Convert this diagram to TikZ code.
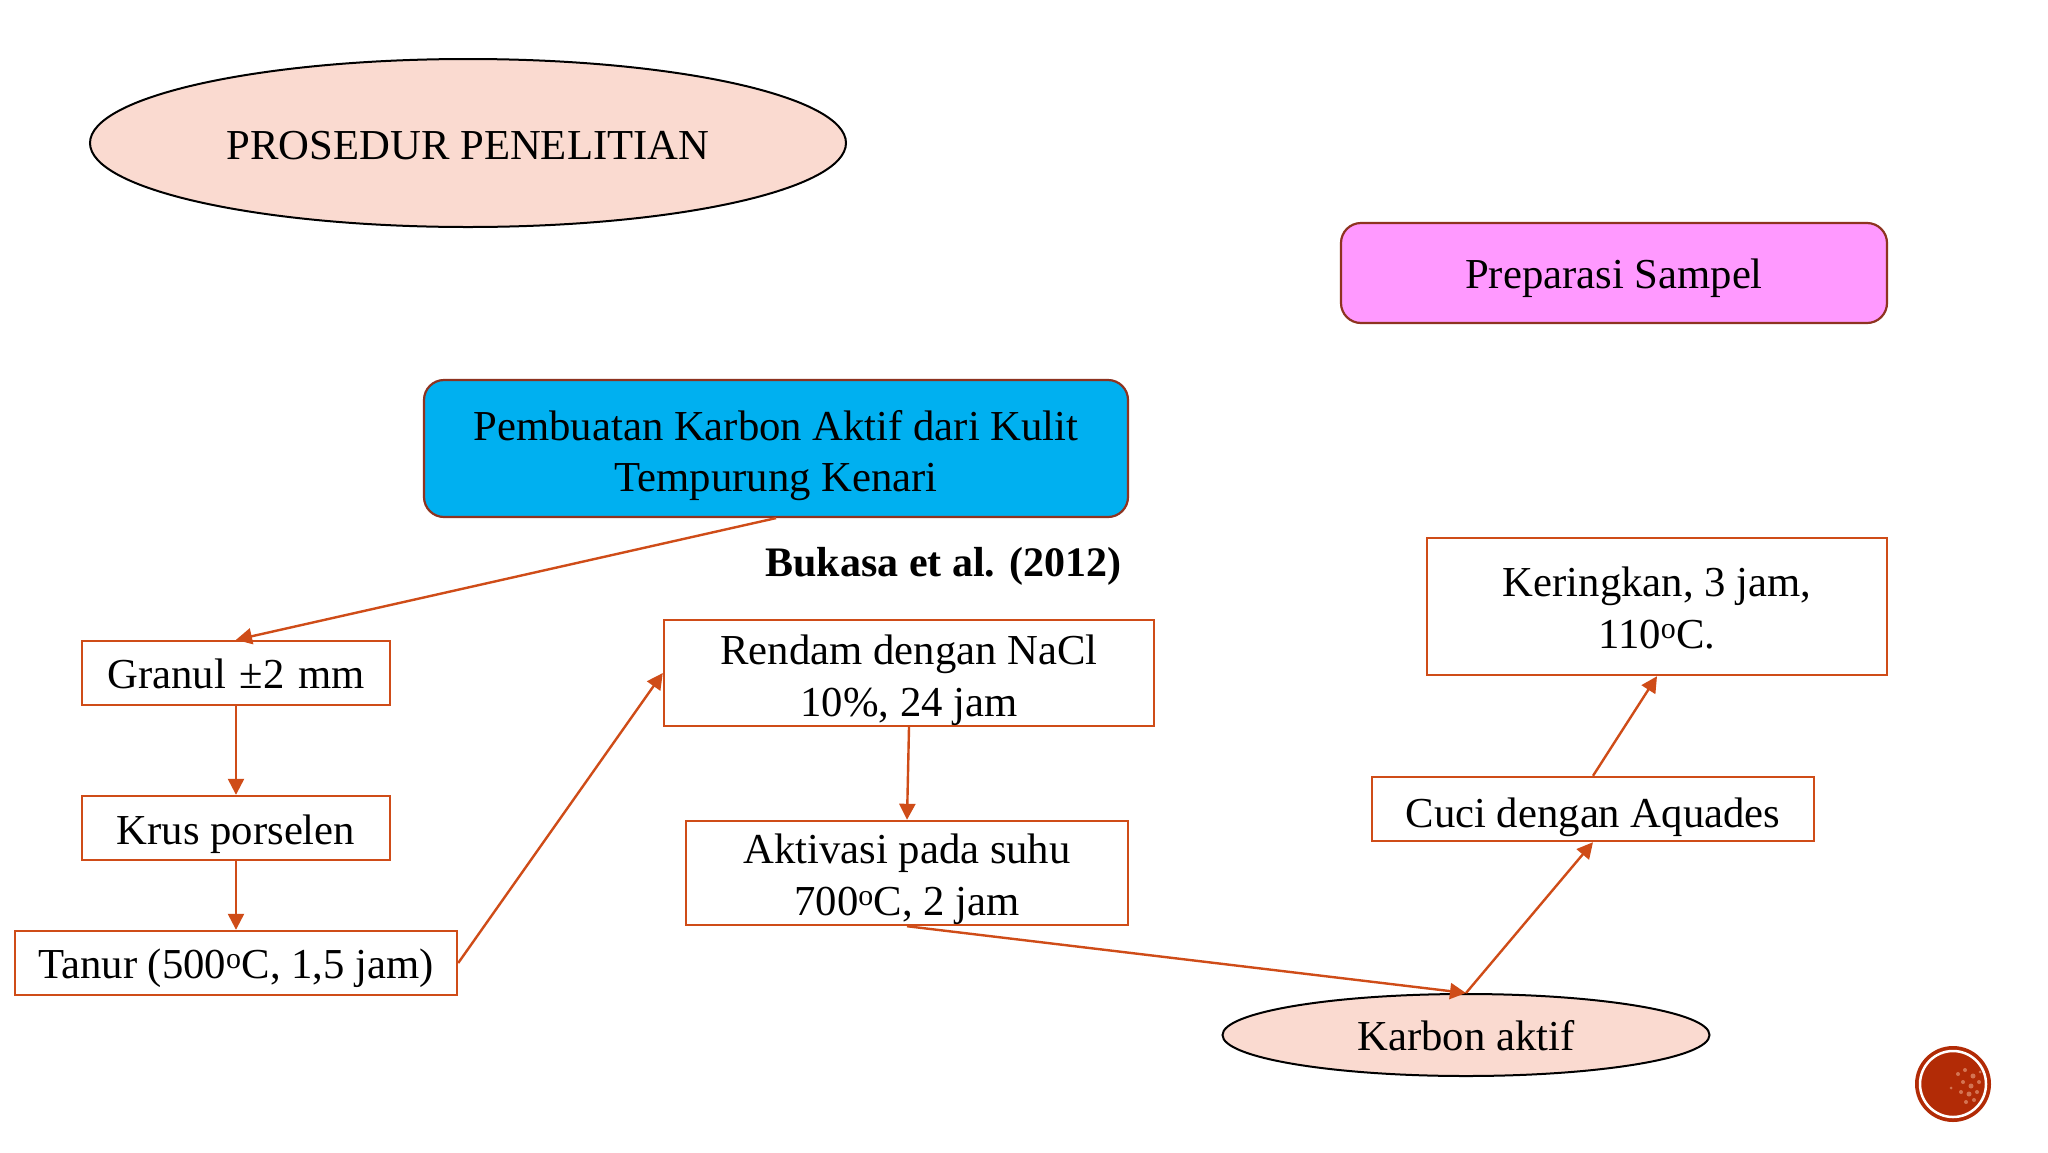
\documentclass[tikz,border=0pt]{standalone}
\usepackage{fontspec}
\setmainfont{Liberation Serif}
\usetikzlibrary{shapes.geometric,arrows.meta}
\definecolor{orangeline}{HTML}{CF4C18}
\definecolor{darkline}{HTML}{8E3320}
\definecolor{peach}{HTML}{FADAD0}
\definecolor{cyanfill}{HTML}{00B0F0}
\definecolor{pinkfill}{HTML}{FF99FF}
\definecolor{badge}{HTML}{B22B06}
\tikzset{
  x=1pt,y=-1pt,
  every node/.style={font=\fontsize{42.7}{51.5}\selectfont,align=center,inner sep=0pt,text=black},
  bl/.style={text height=#1*2pt,text depth=0pt},
  stepbox/.style={draw=orangeline,line width=2.4pt,fill=white,rectangle,minimum width=#1},
  oval/.style={draw=black,line width=2pt,fill=peach,ellipse},
  rbox/.style={draw=darkline,line width=2.2pt,rectangle,rounded corners=20pt},
  link/.style={draw=orangeline,line width=2.4pt,-{Triangle[length=16pt,width=16pt]}},
}
\begin{document}
\begin{tikzpicture}
\useasboundingbox (0,0) rectangle (2048,1152);
\fill[white] (0,0) rectangle (2048,1152);
% title and headers
\node[oval,bl=16,minimum width=756pt,minimum height=168pt] (title) at (468,143) {PROSEDUR PENELITIAN};
\node[rbox,bl=15,fill=pinkfill,minimum width=546pt,minimum height=100pt] (prep) at (1614,273) {Preparasi Sampel};
\node[rbox,bl=43,fill=cyanfill,minimum width=704pt,minimum height=137pt] (buat) at (776,448.5) {Pembuatan Karbon Aktif dari Kulit\\Tempurung Kenari};
\node[bl=15,font=\fontsize{42}{51.5}\selectfont\bfseries] (ref) at (943.5,561) {Bukasa et al. (2012)};
% left column
\node[stepbox=308pt,bl=15,minimum height=64pt] (granul) at (236,673) {Granul\hspace{3pt} ±2\hspace{3pt} mm};
\node[stepbox=308pt,bl=16,minimum height=64pt] (krus) at (236,828) {Krus porselen};
\node[stepbox=442pt,bl=15,minimum height=64pt] (tanur) at (236,963) {Tanur (500\textsuperscript{o}C, 1,5 jam)};
% middle column
\node[stepbox=490pt,bl=43,minimum height=106pt] (rendam) at (909,673) {Rendam dengan NaCl\\10\%, 24 jam};
\node[stepbox=442pt,bl=42,minimum height=104pt] (aktiv) at (907,873) {Aktivasi pada suhu\\700\textsuperscript{o}C, 2 jam};
% right column
\node[oval,bl=15,minimum width=487pt,minimum height=82pt] (karbon) at (1466,1035) {Karbon aktif};
\node[stepbox=442pt,bl=18,minimum height=64pt] (cuci) at (1593,809) {Cuci dengan Aquades};
\node[stepbox=460pt,bl=41.5,minimum height=137pt] (kering) at (1657,606.5) {Keringkan, 3 jam,\\110\textsuperscript{o}C.};
% connectors
\draw[link] (buat.south) -- (granul.north);
\draw[link] (granul.south) -- (krus.north);
\draw[link] (krus.south) -- (tanur.north);
\draw[link] (tanur.east) -- (rendam.west);
\draw[link] (rendam.south) -- (aktiv.north);
\draw[link] (aktiv.south) -- (karbon.north);
\draw[link] (karbon.north) -- (cuci.south);
\draw[link] (cuci.north) -- (kering.south);
% slide badge
\fill[badge] (1953,1084) circle (38);
\draw[white,line width=2.5pt] (1953,1084) circle (33);
\foreach \dx/\dy/\r in {5/-10/2,12/-14/2,20/-8/2.5,10/-2/2,18/2/2.5,26/-2/2,8/8/2,16/10/2.5,24/8/2,13/18/2,21/16/2,-2/4/1.5,27/-12/1.5}
  \fill[orangeline!60!white,opacity=.7] (1953+\dx,1084+\dy) circle (\r);
\end{tikzpicture}
\end{document}
